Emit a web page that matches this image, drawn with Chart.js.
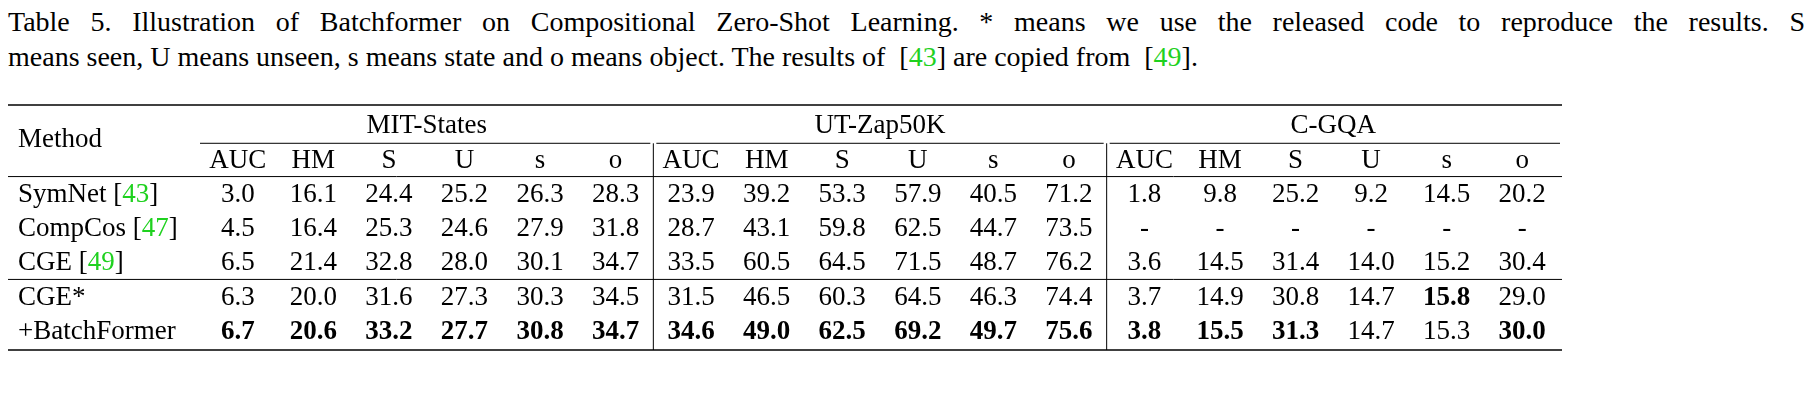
<!DOCTYPE html>
<html><head><meta charset="utf-8">
<script src="https://cdn.jsdelivr.net/npm/chart.js@4"></script>
<style>
body{margin:0;background:#fff;width:1813px;height:413px;overflow:hidden;font-family:"Liberation Serif","DejaVu Serif",serif;}
.cap{position:absolute;left:8px;width:1797px;font-size:28px;color:#000;white-space:nowrap;}
.l1{top:6px;text-align:justify;text-align-last:justify;white-space:normal;}
.l2{top:41px;}
.g{color:#1fd11f;}
canvas{position:absolute;left:0;top:0;}
</style></head><body>
<div class="cap l1">Table 5. Illustration of Batchformer on Compositional Zero-Shot Learning. * means we use the released code to reproduce the results. S</div>
<div class="cap l2">means seen, U means unseen, s means state and o means object. The results of &nbsp;[<span class="g">43</span>] are copied from &nbsp;[<span class="g">49</span>].</div>
<canvas id="c" width="1813" height="413"></canvas>
<script>
const groups=["MIT-States","UT-Zap50K","C-GQA"];
const subCols=["AUC","HM","S","U","s","o"];
const methods=["SymNet","CompCos","CGE","CGE*","+BatchFormer"];
const refs=["43","47","49","",""];
const symnet=["3.0","16.1","24.4","25.2","26.3","28.3","23.9","39.2","53.3","57.9","40.5","71.2","1.8","9.8","25.2","9.2","14.5","20.2"];
const compcos=["4.5","16.4","25.3","24.6","27.9","31.8","28.7","43.1","59.8","62.5","44.7","73.5","-","-","-","-","-","-"];
const cge=["6.5","21.4","32.8","28.0","30.1","34.7","33.5","60.5","64.5","71.5","48.7","76.2","3.6","14.5","31.4","14.0","15.2","30.4"];
const cgeStar=["6.3","20.0","31.6","27.3","30.3","34.5","31.5","46.5","60.3","64.5","46.3","74.4","3.7","14.9","30.8","14.7","15.8","29.0"];
const batchformer=["6.7","20.6","33.2","27.7","30.8","34.7","34.6","49.0","62.5","69.2","49.7","75.6","3.8","15.5","31.3","14.7","15.3","30.0"];
const rowsData=[symnet,compcos,cge,cgeStar,batchformer];
const boldCells={"3":[16],"4":[0,1,2,3,4,5,6,7,8,9,10,11,12,13,14,17]};

const colKeys=[];groups.forEach(g=>subCols.forEach(s=>colKeys.push(g+" "+s)));
const rowKeys=["grp","sub"].concat(methods);
const pts=[];
rowsData.forEach((r,ri)=>r.forEach((v,ci)=>pts.push({x:colKeys[ci],y:rowKeys[ri+2],t:v,b:(boldCells[ri]||[]).includes(ci)})));
const headerPts=colKeys.map((k,ci)=>({x:k,y:"sub",t:subCols[ci%6],b:false}));

const F='"Liberation Serif","DejaVu Serif",serif';
const tablePlugin={id:'tbl',afterDatasetsDraw(ch){
  const c=ch.ctx,xs=ch.scales.x,ys=ch.scales.y;
  const cw=(xs.getPixelForValue(1)-xs.getPixelForValue(0)), rh=(ys.getPixelForValue(1)-ys.getPixelForValue(0));
  const L=8,R=xs.right+2;
  c.save();c.fillStyle='#000';c.textBaseline='middle';
  ch.data.datasets.forEach((ds,di)=>{
    const meta=ch.getDatasetMeta(di);
    meta.data.forEach((el,i)=>{const p=ds.data[i];c.font=(p.b?'bold ':'')+'27px '+F;c.textAlign='center';c.fillText(p.t,el.x,el.y+1);});
  });
  c.font='27px '+F;
  groups.forEach((g,gi)=>{const x=(xs.getPixelForValue(gi*6)+xs.getPixelForValue(gi*6+5))/2;c.textAlign='center';c.fillText(g,x,ys.getPixelForValue(0)+1);});
  c.textAlign='left';
  c.fillText("Method",18,(ys.getPixelForValue(0)+ys.getPixelForValue(1))/2-2);
  methods.forEach((m,i)=>{const y=ys.getPixelForValue(i+2)+1;c.fillStyle='#000';c.fillText(m,18,y);
    if(refs[i]){let x=18+c.measureText(m+" ").width;c.fillText("[",x,y);x+=c.measureText("[").width;c.fillStyle='#1fd11f';c.fillText(refs[i],x,y);x+=c.measureText(refs[i]).width;c.fillStyle='#000';c.fillText("]",x,y);}});
  const hl=(y,x0,x1,w)=>{c.beginPath();c.lineWidth=w;c.strokeStyle='#000';c.moveTo(x0,y);c.lineTo(x1,y);c.stroke();};
  const bnd=r=>ys.getPixelForValue(r)-rh/2;
  hl(bnd(0)-3,L,R,1.6);
  groups.forEach((g,gi)=>{const x0=xs.getPixelForValue(gi*6)-cw/2+(gi?3:0),x1=xs.getPixelForValue(gi*6+5)+cw/2-(gi<2?3:0);hl(bnd(1)+1,x0,x1,1);});
  hl(bnd(2),L,R,1);hl(bnd(5),L,R,1);hl(bnd(6)+rh+2,L,R,1.6);
  [6,12].forEach(ci=>{const x=xs.getPixelForValue(ci)-cw/2;c.beginPath();c.lineWidth=1;c.moveTo(x,bnd(1)+1);c.lineTo(x,bnd(6)+rh+2);c.stroke();});
  c.restore();
}};
new Chart(document.getElementById('c'),{type:'scatter',
 data:{datasets:[{data:headerPts,pointRadius:0},{data:pts,pointRadius:0}]},
 options:{responsive:false,animation:false,events:[],
  layout:{padding:{left:200,right:253,top:108,bottom:65}},
  plugins:{legend:{display:false},tooltip:{enabled:false}},
  scales:{x:{type:'category',labels:colKeys,offset:true,display:false},
          y:{type:'category',labels:rowKeys,offset:true,display:false}}},
 plugins:[tablePlugin]});
</script></body></html>
